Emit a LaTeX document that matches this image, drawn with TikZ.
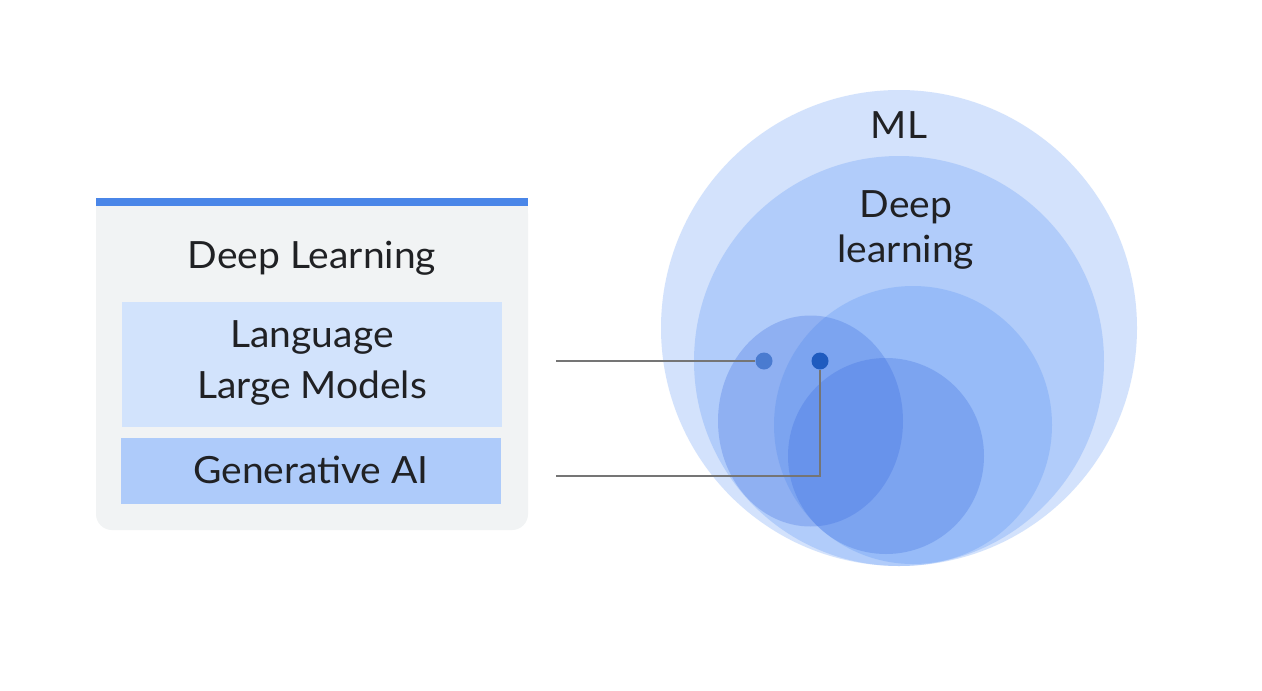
\documentclass[tikz,border=0pt]{standalone}
\usepackage{fontspec}
\setmainfont{Lato}[FakeStretch=1.04]
\usetikzlibrary{shapes.geometric}
\definecolor{panelgray}{HTML}{F1F3F4}
\definecolor{barblue}{HTML}{4A86E8}
\definecolor{llmfill}{HTML}{D2E3FC}
\definecolor{genfill}{HTML}{AECBFA}
\definecolor{gblue}{HTML}{4285F4}
\definecolor{dblue}{HTML}{3566DE}
\definecolor{txt}{HTML}{202124}
\definecolor{conn}{HTML}{757575}
\definecolor{dotone}{HTML}{4A7BD0}
\definecolor{dottwo}{HTML}{1F5BBF}
\tikzset{
  lbl/.style={text=txt, font=\fontsize{37.5}{40}\selectfont, anchor=base, inner sep=0pt},
  setcirc/.style={circle, inner sep=0pt, draw=none, fill=gblue, fill opacity=0.23},
  innercirc/.style={inner sep=0pt, draw=none, fill=dblue, fill opacity=0.27},
  dotmark/.style={circle, inner sep=0pt, minimum size=17pt, draw=none},
  connector/.style={draw=conn, line width=2pt},
  boxfill/.style={inner sep=0pt, draw=none, anchor=north west},
}
\begin{document}
\begin{tikzpicture}[x=1pt,y=-1pt]
\useasboundingbox (0,0) rectangle (1262,691);
\fill[white] (0,0) rectangle (1262,691);
% left panel
\fill[panelgray, rounded corners=16] (96,198) rectangle (528,530);
\fill[panelgray] (96,198) rectangle (528,260);
\fill[barblue] (96,198) rectangle (528,206);
\node[boxfill, fill=llmfill, minimum width=380pt, minimum height=125pt] (llmbox) at (122,302) {};
\node[boxfill, fill=genfill, minimum width=380pt, minimum height=66pt] (genbox) at (121,438) {};
\node[lbl] (dltitle) at (312,268) {Deep Learning};
\node[lbl] (lang) at (312,347) {Language};
\node[lbl] (lm) at (312,398) {Large Models};
\node[lbl] (gen) at (311,483) {Generative AI};
% circles
\node[setcirc, minimum size=476pt] (ml) at (899,328) {};
\node[setcirc, minimum size=410pt] (dl) at (899,361) {};
\node[setcirc, minimum size=278pt] (c3) at (913,425) {};
\node[innercirc, ellipse, minimum width=185pt, minimum height=211pt] (llmc) at (810.5,421) {};
\node[innercirc, circle, minimum size=196pt] (genc) at (886,456) {};
\node[lbl] (mltext) at (899,138) {ML};
\node[lbl] (deep) at (906,217) {Deep};
\node[lbl] (learn) at (906,262) {learning};
% connectors
\coordinate (s1) at (556,361);
\coordinate (s2) at (556,476);
\node[dotmark, fill=dotone] (d1) at (764,361) {};
\node[dotmark, fill=dottwo] (d2) at (820,361) {};
\draw[connector] (s1) -- (d1.west);
\draw[connector] (s2) -| (d2.south);
\end{tikzpicture}
\end{document}
